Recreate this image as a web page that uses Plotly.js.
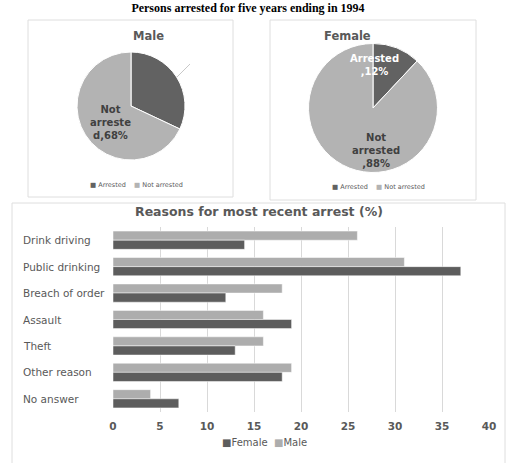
<!DOCTYPE html>
<html>
<head>
<meta charset="utf-8">
<script src="https://cdn.plot.ly/plotly-3.0.1.min.js"></script>
<style>
  body { margin: 0; background: #fff; }
  #chart { width: 512px; height: 463px; }
</style>
</head>
<body>
<div id="chart"></div>
<script>
// pie data
const pieLabels = ['Arrested', 'Not arrested'];
const maleShare = [32, 68];
const femaleShare = [12, 88];
const pieColors = ['#626262', '#b3b3b3'];

// bar data
const reasons = ['Drink driving', 'Public drinking', 'Breach of order', 'Assault', 'Theft', 'Other reason', 'No answer'];
const maleReasons = [26, 31, 18, 16, 16, 19, 4];
const femaleReasons = [14, 37, 12, 19, 13, 18, 7];
const barNames = ['Female', 'Male'];
const barColors = ['#5d5d5d', '#adadad'];
const xTicks = [0, 5, 10, 15, 20, 25, 30, 35, 40];

const W = 512, H = 463;
const px = x => x / W;
const py = y => 1 - y / H;

const gray = '#595959';
const sans = 'DejaVu Sans, Verdana, sans-serif';

const traces = [
    {
        type: 'pie', labels: pieLabels, values: maleShare, sort: false,
        direction: 'clockwise', rotation: 0, textinfo: 'none', hoverinfo: 'none',
        marker: {colors: pieColors, line: {color: '#fff', width: 1}},
        domain: {x: [px(77), px(185)], y: [py(160), py(52)]},
        showlegend: false
    },
    {
        type: 'pie', labels: pieLabels, values: femaleShare, sort: false,
        direction: 'clockwise', rotation: 0, textinfo: 'none', hoverinfo: 'none',
        marker: {colors: pieColors, line: {color: '#fff', width: 1}},
        domain: {x: [px(308.5), px(437.5)], y: [py(172.5), py(43.5)]},
        showlegend: false
    },
    {
        type: 'bar', orientation: 'h', name: 'Male', x: maleReasons, y: reasons,
        marker: {color: barColors[1], line: {color: '#fff', width: 0.5}},
        xaxis: 'x', yaxis: 'y', showlegend: false
    },
    {
        type: 'bar', orientation: 'h', name: 'Female', x: femaleReasons, y: reasons,
        marker: {color: barColors[0], line: {color: '#fff', width: 0.5}},
        xaxis: 'x', yaxis: 'y', showlegend: false
    }
];

function pieLegend(cx, cy) {
    return {
        xref: 'paper', yref: 'paper', x: px(cx), y: py(cy), showarrow: false,
        xanchor: 'center', yanchor: 'middle',
        font: {family: sans, size: 6.5, color: gray},
        text: pieLabels.map((l, i) =>
            '<span style="color:' + pieColors[i] + '">■</span> ' + l).join('    ')
    };
}

function label(text, cx, cy, color) {
    return {
        xref: 'paper', yref: 'paper', x: px(cx), y: py(cy), showarrow: false,
        xanchor: 'center', yanchor: 'middle', align: 'center',
        font: {family: sans, size: 10, color: color, weight: 'bold'},
        text: text
    };
}

const annotations = [
    {xref: 'paper', yref: 'paper', x: px(131), y: py(27), showarrow: false,
     font: {family: sans, size: 11.5, color: gray, weight: 'bold'}, text: 'Male'},
    {xref: 'paper', yref: 'paper', x: px(373), y: py(27), showarrow: false,
     font: {family: sans, size: 11.5, color: gray, weight: 'bold'}, text: 'Female'},
    {xref: 'paper', yref: 'paper', x: px(259), y: py(211), showarrow: false,
     font: {family: sans, size: 12.5, color: gray, weight: 'bold'},
     text: 'Reasons for most recent arrest (%)'},
    label('Not<br>arreste<br>d,' + maleShare[1] + '%', 110, 122, '#404040'),
    label(pieLabels[0] + '<br>,' + femaleShare[0] + '%', 374, 65, '#ffffff'),
    label('Not<br>arrested<br>,' + femaleShare[1] + '%', 376, 150, '#404040'),
    pieLegend(136, 185),
    pieLegend(378, 187),
    {xref: 'paper', yref: 'paper', x: px(264), y: py(450), showarrow: false,
     font: {family: sans, size: 10, color: gray},
     text: barNames.map((n, i) =>
        '<span style="color:' + barColors[i] + '">■</span>' + n).join('  ')}
];

reasons.forEach(r => {
    annotations.push({
        xref: 'paper', yref: 'y', x: px(21), y: r, xanchor: 'left', yanchor: 'middle',
        showarrow: false, font: {family: sans, size: 10.5, color: gray}, text: r
    });
});

const box = '#dedede';
const shapes = [
    {type: 'rect', xref: 'paper', yref: 'paper', x0: px(28), x1: px(233), y0: py(197), y1: py(20),
     line: {color: box, width: 1}},
    {type: 'rect', xref: 'paper', yref: 'paper', x0: px(270), x1: px(476), y0: py(200), y1: py(20),
     line: {color: box, width: 1}},
    {type: 'rect', xref: 'paper', yref: 'paper', x0: px(12), x1: px(505), y0: py(470), y1: py(203),
     line: {color: box, width: 1}},
    // leader line of the male "Arrested" label
    {type: 'line', xref: 'paper', yref: 'paper', x0: px(177), x1: px(190), y0: py(77), y1: py(64),
     line: {color: '#c8c8c8', width: 1}}
];

const layout = {
    width: W, height: H,
    margin: {l: 0, r: 0, t: 0, b: 0},
    paper_bgcolor: '#fff', plot_bgcolor: '#fff',
    title: {
        text: '<b>Persons arrested for five years ending in 1994</b>',
        font: {family: 'Liberation Serif, Times New Roman, serif', size: 12, color: '#000'},
        x: px(248), xanchor: 'center', y: py(8), yanchor: 'middle', yref: 'paper'
    },
    barmode: 'group', bargap: 0.31, bargroupgap: 0,
    xaxis: {
        domain: [px(113), px(489)], range: [0, 40], tickvals: xTicks,
        showgrid: true, gridcolor: '#d9d9d9', gridwidth: 1, zeroline: false,
        showline: false, ticks: '', ticklabelstandoff: 6,
        tickfont: {family: sans, size: 10.5, color: gray, weight: 'bold'}
    },
    yaxis: {
        domain: [py(412), py(227)], type: 'category', autorange: 'reversed',
        showticklabels: false, showgrid: false, zeroline: false, ticks: ''
    },
    annotations: annotations,
    shapes: shapes,
    showlegend: false
};

Plotly.newPlot('chart', traces, layout, {displayModeBar: false, staticPlot: true});
</script>
</body>
</html>
